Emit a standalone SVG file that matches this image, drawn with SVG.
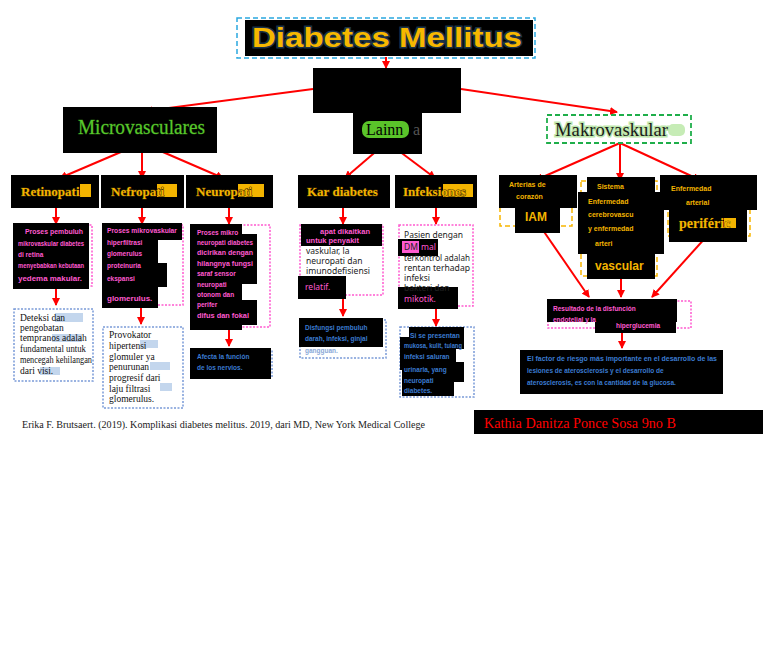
<svg xmlns="http://www.w3.org/2000/svg" width="768" height="669" viewBox="0 0 768 669">
<style>
.blk{fill:#000}
.con{stroke:#ff0000;stroke-width:2;fill:none;marker-end:url(#ah)}
.ttl{font-family:"Liberation Sans",Arial,sans-serif;font-weight:bold;font-size:27px;fill:#f6b800;stroke:#1b3246;stroke-width:3;paint-order:stroke}
.or{font-family:"Liberation Serif",serif;font-weight:bold;font-size:13px;fill:#f3b400;stroke:#3a2a00;stroke-width:1;paint-order:stroke}
.ors{font-family:"Liberation Sans",sans-serif;font-weight:bold;font-size:7px;fill:#f3b400}
.pk{font-family:"Liberation Sans",sans-serif;font-size:6.5px;font-weight:bold;fill:#ff5ad0}
.bl{font-family:"Liberation Sans",sans-serif;font-size:6.5px;font-weight:bold;fill:#3b7bd0}
.sr{font-family:"Liberation Serif",serif;font-size:9.5px;fill:#111}
.gy{font-family:"Noto Sans","Liberation Sans",sans-serif;font-size:8.5px;fill:#222}
.pkd{fill:none;stroke:#ff5ad0;stroke-width:1.5;stroke-dasharray:2,1.5}
.bld{fill:none;stroke:#7a9ad8;stroke-width:1.5;stroke-dasharray:2,1.5}
.yd{fill:none;stroke:#f7b500;stroke-width:1.5;stroke-dasharray:5,3}
.hlb{fill:#a9c4e6;opacity:0.7}
</style>
<defs>
<marker id="ah" markerWidth="8" markerHeight="8" refX="7" refY="4" orient="auto" markerUnits="userSpaceOnUse">
<path d="M0,0 L8,4 L0,8 z" fill="#ff0000"/>
</marker>
</defs>
<rect width="768" height="669" fill="#fff"/>

<g id="connectors">
<path class="con" d="M386,57 L386,68"/>
<path class="con" d="M386,92 L386,110"/>
<path class="con" d="M313,89 L146,111"/>
<path class="con" d="M461,89 L617,112"/>
<path class="con" d="M142,143 L60,178"/>
<path class="con" d="M142,143 L142,178"/>
<path class="con" d="M142,143 L223,178"/>
<path class="con" d="M387,142 L345,178"/>
<path class="con" d="M387,142 L435,178"/>
<path class="con" d="M620,143 L536,180"/>
<path class="con" d="M620,143 L620,180"/>
<path class="con" d="M620,143 L700,180"/>
<path class="con" d="M56,208 L56,224"/>
<path class="con" d="M142,208 L142,224"/>
<path class="con" d="M229,208 L229,224"/>
<path class="con" d="M343,208 L343,224"/>
<path class="con" d="M436,208 L436,224"/>
<path class="con" d="M56,289 L56,305"/>
<path class="con" d="M141,308 L141,324"/>
<path class="con" d="M229,330 L229,346"/>
<path class="con" d="M343,299 L343,316"/>
<path class="con" d="M436,309 L436,326"/>
<path class="con" d="M538,223 L589,297"/>
<path class="con" d="M621,278 L621,297"/>
<path class="con" d="M707,236 L652,297"/>
<path class="con" d="M622,333 L622,348"/>
</g>

<g id="title">
<rect x="237" y="18" width="298" height="40" fill="none" stroke="#2aa8e0" stroke-width="1.5" stroke-dasharray="5,3"/>
<rect class="blk" x="245" y="20" width="288" height="36"/>
<text class="ttl" x="252" y="47" textLength="270" lengthAdjust="spacingAndGlyphs">Diabetes Mellitus</text>
</g>

<g id="komplikasi">
<rect class="blk" x="313" y="68" width="148" height="45"/>
<rect class="blk" x="353" y="110" width="69" height="44"/>
<rect x="362" y="121" width="47" height="17" rx="7" fill="#5ac42a"/>
<text x="366" y="135" font-family="Liberation Serif,serif" font-size="16" fill="#000">Lainn</text>
<text x="413" y="135" font-family="Liberation Serif,serif" font-size="16" fill="#555">a</text>
</g>

<g id="micro">
<rect class="blk" x="63" y="107" width="154" height="46"/>
<text x="78" y="134" font-family="Liberation Serif,serif" font-size="20" fill="#58c82c" stroke="#1d4a0c" stroke-width="0.8" paint-order="stroke" textLength="127" lengthAdjust="spacingAndGlyphs">Microvasculares</text>
</g>

<g id="makro">
<rect x="547" y="115" width="144" height="28" fill="none" stroke="#1fae4a" stroke-width="1.8" stroke-dasharray="5,3"/>
<rect x="668" y="124" width="17" height="12" rx="5" fill="#c6ecb6"/>
<text x="555" y="136" font-family="Liberation Serif,serif" font-size="19" fill="#1a1a1a" stroke="#bfe8ae" stroke-width="3" paint-order="stroke" textLength="113" lengthAdjust="spacingAndGlyphs">Makrovaskular</text>
</g>

<g id="retinopati">
<rect class="blk" x="11" y="175" width="88" height="33"/>
<rect x="80" y="184" width="11" height="13" fill="#f3b400"/>
<text class="or" x="21" y="196">Retinopati</text>
</g>
<g id="nefropati">
<rect class="blk" x="101" y="175" width="83" height="33"/>
<rect x="157" y="184" width="20" height="13" fill="#f3b400"/>
<text class="or" x="111" y="196">Nefropati</text>
</g>
<g id="neuropati">
<rect class="blk" x="186" y="175" width="87" height="33"/>
<rect x="238" y="184" width="26" height="13" fill="#f3b400"/>
<text class="or" x="196" y="196">Neuropati</text>
</g>
<g id="kardiabetes">
<rect class="blk" x="298" y="175" width="92" height="33"/>
<text class="or" x="307" y="196">Kar diabetes</text>
</g>
<g id="infeksiones">
<rect class="blk" x="395" y="175" width="82" height="33"/>
<rect x="443" y="184" width="30" height="13" fill="#f3b400"/>
<text class="or" x="403" y="196">Infeksiones</text>
</g>

<g id="iam">
<rect class="yd" x="500" y="200" width="72" height="26"/>
<rect class="blk" x="499" y="175" width="78" height="33"/>
<rect class="blk" x="515" y="205" width="45" height="28"/>
<text class="ors" x="509" y="187">Arterias de</text>
<text class="ors" x="516" y="199">corazón</text>
<text x="525" y="221" font-family="Liberation Sans,sans-serif" font-weight="bold" font-size="12" fill="#f3b400">IAM</text>
</g>
<g id="cerebro">
<rect class="yd" x="581" y="181" width="76" height="95"/>
<rect class="blk" x="587" y="177" width="68" height="18"/>
<rect class="blk" x="578" y="192" width="86" height="62"/>
<rect class="blk" x="587" y="252" width="68" height="27"/>
<text class="ors" x="597" y="189">Sistema</text>
<text class="ors" x="588" y="204">Enfermedad</text>
<text class="ors" x="588" y="217">cerebrovascu</text>
<text class="ors" x="588" y="231">y enfermedad</text>
<text class="ors" x="595" y="246">arteri</text>
<text x="595" y="270" font-family="Liberation Sans,sans-serif" font-weight="bold" font-size="12" fill="#f3b400">vascular</text>
</g>
<g id="perifer">
<rect class="yd" x="668" y="195" width="82" height="41"/>
<rect class="blk" x="660" y="175" width="97" height="35"/>
<rect class="blk" x="669" y="205" width="78" height="37"/>
<text class="ors" x="671" y="191">Enfermedad</text>
<text class="ors" x="686" y="205">arterial</text>
<rect x="724" y="218" width="12" height="10" fill="#f3b400"/>
<text x="679" y="228" font-family="Liberation Serif,serif" font-weight="bold" font-size="14" fill="#f3b400" stroke="#3a2a00" stroke-width="0.6" paint-order="stroke">periféric</text>
</g>

<g id="resultado">
<rect class="pkd" x="548" y="301" width="143" height="27"/>
<rect class="blk" x="547" y="299" width="130" height="23"/>
<rect class="blk" x="595" y="318" width="81" height="15"/>
<text class="pk" x="553" y="311">Resultado de la disfunción</text>
<text class="pk" x="553" y="322">endotelial y la</text>
<text class="pk" x="616" y="328">hiperglucemia</text>
</g>
<g id="aterosklerosis">
<rect class="bld" x="700" y="352" width="22" height="20"/>
<rect class="blk" x="520" y="350" width="203" height="44"/>
<text class="bl" x="527" y="361" textLength="190" lengthAdjust="spacingAndGlyphs">El factor de riesgo más importante en el desarrollo de las</text>
<text class="bl" x="527" y="373">lesiones de aterosclerosis y el desarrollo de</text>
<text class="bl" x="527" y="385">aterosclerosis, es con la cantidad de la glucosa.</text>
</g>

<g id="retino-detail">
<rect class="pkd" x="16" y="225" width="76" height="61"/>
<rect class="blk" x="13" y="223" width="76" height="66"/>
<text class="pk" x="25" y="234" textLength="58" lengthAdjust="spacingAndGlyphs">Proses pembuluh</text>
<text class="pk" x="18" y="246" textLength="66" lengthAdjust="spacingAndGlyphs">mikrovaskular diabetes</text>
<text class="pk" x="18" y="257">di retina</text>
<text class="pk" x="18" y="268" textLength="66" lengthAdjust="spacingAndGlyphs">menyebabkan kebutaan</text>
<text class="pk" x="18" y="281" style="font-size:8px" textLength="64" lengthAdjust="spacingAndGlyphs">yedema makular.</text>
</g>
<g id="retino-note">
<rect class="bld" x="14" y="309" width="79" height="72"/>
<rect class="hlb" x="55" y="313" width="28" height="9"/>
<rect class="hlb" x="52" y="334" width="30" height="8"/>
<rect class="hlb" x="40" y="367" width="20" height="8"/>
<text class="sr" x="20" y="321">Deteksi dan</text>
<text class="sr" x="20" y="331">pengobatan</text>
<text class="sr" x="20" y="341" font-size="7">tempranos adalah</text>
<text class="sr" x="20" y="352" textLength="66" lengthAdjust="spacingAndGlyphs">fundamental untuk</text>
<text class="sr" x="20" y="363" textLength="72" lengthAdjust="spacingAndGlyphs">mencegah kehilangan</text>
<text class="sr" x="20" y="374">dari visi.</text>
</g>

<g id="nefro-detail">
<rect class="pkd" x="104" y="225" width="79" height="80"/>
<rect class="blk" x="102" y="223" width="80" height="17"/>
<rect class="blk" x="102" y="238" width="56" height="70"/>
<rect class="blk" x="102" y="263" width="65" height="24"/>
<text class="pk" x="107" y="233" textLength="70" lengthAdjust="spacingAndGlyphs">Proses mikrovaskular</text>
<text class="pk" x="107" y="245">hiperfiltrasi</text>
<text class="pk" x="107" y="256">glomerulus</text>
<text class="pk" x="107" y="268">proteinuria</text>
<text class="pk" x="107" y="281">ekspansi</text>
<text class="pk" x="107" y="301" style="font-size:8px">glomerulus.</text>
</g>
<g id="nefro-note">
<rect class="bld" x="103" y="327" width="80" height="81"/>
<rect class="hlb" x="140" y="340" width="18" height="8"/>
<rect class="hlb" x="150" y="362" width="20" height="8"/>
<rect class="hlb" x="160" y="383" width="12" height="8"/>
<text class="sr" x="109" y="338">Provokator</text>
<text class="sr" x="109" y="349">hipertensi</text>
<text class="sr" x="109" y="360">glomuler ya</text>
<text class="sr" x="109" y="370">penurunan</text>
<text class="sr" x="109" y="381">progresif dari</text>
<text class="sr" x="109" y="392">laju filtrasi</text>
<text class="sr" x="109" y="402">glomerulus.</text>
</g>

<g id="neuro-detail">
<rect class="pkd" x="191" y="225" width="79" height="102"/>
<rect class="blk" x="190" y="224" width="52" height="106"/>
<rect class="blk" x="190" y="234" width="67" height="50"/>
<rect class="blk" x="190" y="300" width="67" height="25"/>
<text class="pk" x="197" y="235">Proses mikro</text>
<text class="pk" x="197" y="245" textLength="56" lengthAdjust="spacingAndGlyphs">neuropati diabetes</text>
<text class="pk" x="197" y="255" textLength="56" lengthAdjust="spacingAndGlyphs">dicirikan dengan</text>
<text class="pk" x="197" y="266" textLength="56" lengthAdjust="spacingAndGlyphs">hilangnya fungsi</text>
<text class="pk" x="197" y="276">saraf sensor</text>
<text class="pk" x="197" y="287">neuropati</text>
<text class="pk" x="197" y="297">otonom dan</text>
<text class="pk" x="197" y="307">perifer</text>
<text class="pk" x="197" y="318" textLength="52" lengthAdjust="spacingAndGlyphs">difus dan fokal</text>
</g>
<g id="neuro-note">
<rect class="bld" x="192" y="350" width="80" height="27"/>
<rect class="blk" x="190" y="348" width="81" height="31"/>
<text class="bl" x="197" y="359">Afecta la función</text>
<text class="bl" x="197" y="370">de los nervios.</text>
</g>

<g id="kar-detail">
<rect class="pkd" x="300" y="225" width="83" height="70"/>
<rect class="blk" x="301" y="224" width="81" height="22"/>
<rect class="blk" x="298" y="276" width="48" height="23"/>
<text class="pk" x="320" y="234" style="font-size:7.5px">apat dikaitkan</text>
<text class="pk" x="306" y="243" style="font-size:7.5px">untuk penyakit</text>
<text class="gy" x="306" y="254">vaskular, la</text>
<text class="gy" x="306" y="264">neuropati dan</text>
<text class="gy" x="306" y="274" textLength="64" lengthAdjust="spacingAndGlyphs">imunodefisiensi</text>
<text class="gy" x="305" y="290" style="fill:#ff5ad0">relatif.</text>
</g>
<g id="kar-note">
<rect class="bld" x="300" y="320" width="86" height="38"/>
<rect class="blk" x="299" y="318" width="84" height="29"/>
<text class="bl" x="305" y="330">Disfungsi pembuluh</text>
<text class="bl" x="305" y="341">darah, infeksi, ginjal</text>
<text class="bl" x="305" y="353" style="fill:#8aa8d8">gangguan.</text>
</g>

<g id="infeksi-detail">
<rect class="pkd" x="399" y="225" width="74" height="81"/>
<rect class="blk" x="398" y="239" width="40" height="17"/>
<rect class="blk" x="398" y="287" width="60" height="22"/>
<rect x="402" y="241" width="17" height="12" fill="#ff5ad0"/>
<text class="gy" x="404" y="238">Pasien dengan</text>
<text class="gy" x="404" y="250">DM</text>
<text class="gy" x="421" y="250" style="fill:#ff5ad0">mal</text>
<text class="gy" x="404" y="261" textLength="66" lengthAdjust="spacingAndGlyphs">terkontrol adalah</text>
<text class="gy" x="404" y="271" textLength="66" lengthAdjust="spacingAndGlyphs">rentan terhadap</text>
<text class="gy" x="404" y="281">infeksi</text>
<text class="gy" x="404" y="291">bakteri dan</text>
<text class="gy" x="404" y="302" style="fill:#ff5ad0">mikotik.</text>
</g>
<g id="infeksi-note">
<rect class="bld" x="400" y="327" width="74" height="70"/>
<rect class="blk" x="409" y="327" width="55" height="22"/>
<rect class="blk" x="400" y="337" width="56" height="33"/>
<rect class="blk" x="402" y="362" width="62" height="20"/>
<rect class="blk" x="402" y="376" width="52" height="20"/>
<text class="bl" x="410" y="338" textLength="50" lengthAdjust="spacingAndGlyphs">Si se presentan</text>
<text class="bl" x="404" y="348" textLength="58" lengthAdjust="spacingAndGlyphs">mukosa, kulit, tulang</text>
<text class="bl" x="404" y="359">infeksi saluran</text>
<text class="bl" x="404" y="372">urinaria, yang</text>
<text class="bl" x="404" y="383">neuropati</text>
<text class="bl" x="404" y="393">diabetes.</text>
</g>

<g id="footer">
<text x="22" y="428" font-family="Liberation Serif,serif" font-size="10" fill="#222" textLength="403" lengthAdjust="spacingAndGlyphs">Erika F. Brutsaert. (2019). Komplikasi diabetes melitus. 2019, dari MD, New York Medical College</text>
<rect class="blk" x="474" y="410" width="289" height="24"/>
<text x="484" y="428" font-family="Liberation Serif,serif" font-size="14" fill="#ff0000" textLength="192" lengthAdjust="spacingAndGlyphs">Kathia Danitza Ponce Sosa 9no B</text>
</g>
</svg>
